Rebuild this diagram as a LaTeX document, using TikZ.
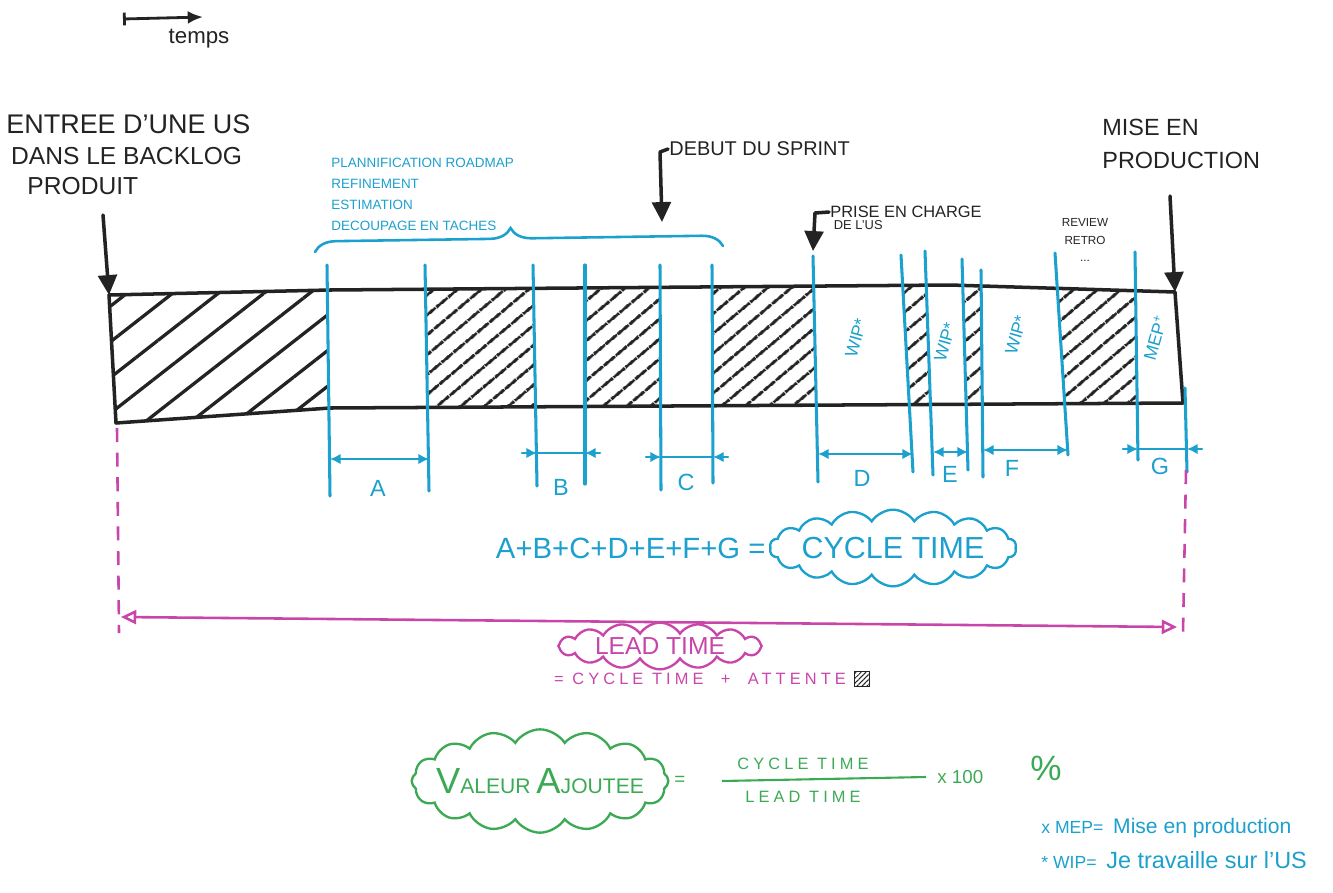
\documentclass[tikz,border=0pt]{standalone}
\usepackage{fontspec}
\setmainfont{Liberation Sans}
\newfontfamily\espace[LetterSpace=25]{Liberation Sans}
\usepackage{xcolor}
\usetikzlibrary{arrows.meta,positioning,patterns.meta,shapes.symbols,decorations.pathreplacing}

\definecolor{feutrebleu}{RGB}{28,160,205}
\definecolor{feutrerose}{RGB}{200,70,170}
\definecolor{feutrevert}{RGB}{60,170,85}
\definecolor{feutrenoir}{RGB}{35,35,35}

\newcommand{\taille}[2]{\fontsize{#1}{#2}\selectfont}
% contour du bandeau
\newcommand{\bandeau}{(tl) -- (330,290) -- (700,287) -- (950,285) -- (tr) -- (br) -- (330,408) -- (bl) -- cycle}

\begin{document}
\begin{tikzpicture}[x=0.3mm, y=-0.3mm,
    noir/.style={draw=feutrenoir, line width=3pt, line cap=round, line join=round},
    fleche/.style={noir, -{Triangle[length=17pt,width=16pt]}},
    bleu/.style={draw=feutrebleu, line width=2.6pt, line cap=round},
    cote/.style={bleu, line width=2.2pt, {Latex[length=9pt,width=9pt]}-{Latex[length=9pt,width=9pt]}},
    cotebout/.style={bleu, line width=2.2pt, -{Latex[length=9pt,width=9pt]}},
    rose/.style={draw=feutrerose, line width=2.2pt},
    pointille/.style={rose, dash pattern=on 12pt off 9pt},
    vert/.style={draw=feutrevert, line width=1.8pt},
    hachure/.style={pattern={Lines[angle=40,distance=13pt,line width=2.6pt]}, pattern color=feutrenoir},
    hachurelarge/.style={pattern={Lines[angle=38,distance=24pt,line width=2.8pt]}, pattern color=feutrenoir},
    hachurefine/.style={pattern={Lines[angle=45,distance=3pt,line width=0.8pt]}, pattern color=feutrenoir},
    texte/.style={inner sep=1pt},
    lettre/.style={texte, text=feutrebleu, font=\taille{20}{22}},
    wip/.style={texte, text=feutrebleu, font=\taille{15}{17}, rotate=74},
    nuage/.style={cloud, cloud ignores aspect, cloud puffs=18, cloud puff arc=115, line width=2pt, inner sep=0pt},
  ]
  \useasboundingbox (0,0) rectangle (1333,892);

  % echelle de temps
  \coordinate (temps0) at (123,19);
  \coordinate (temps1) at (203,17);
  \draw[noir, line width=2.4pt, {Bar[width=11pt]}-{Latex[length=13pt,width=11pt]}] (temps0) -- (temps1);
  \node[texte, text=feutrenoir, font=\taille{19}{20}] (temps) at (199,39) {temps};

  % bandeau
  \coordinate (tl) at (109,295);
  \coordinate (tr) at (1175,292);
  \coordinate (br) at (1183,403);
  \coordinate (bl) at (116,423);

  \foreach \n/\xt/\yt/\xb/\yb in {a1/327/265/330/496, a2/425/265/429/491,
      b1/533/265/537/486, b2/585/265/585/484, c1/660/265/661/490, c2/712/265/713/483,
      d1/813/256/818/482, d2/901/255/913/472, e1/925/251/933/475, e2/962/259/968/470,
      f1/981/270/983/477, f2/1055/253/1068/455, g1/1135/252/1138/460, g2/1185/388/1187/472}{
    \coordinate (t\n) at (\xt,\yt);
    \coordinate (b\n) at (\xb,\yb);
  }

  \begin{scope}
    \clip \bandeau;
    \fill[hachurelarge] (90,260) -- (ta1) -- (ba1) -- (90,450) -- cycle;
    \foreach \p/\q in {a2/b1, b2/c1, c2/d1, d2/e1, e2/f1, f2/g1}
      \fill[hachure] (t\p) -- (t\q) -- (b\q) -- (b\p) -- cycle;
  \end{scope}
  \draw[noir] \bandeau;

  \foreach \n in {a1,a2,b1,b2,c1,c2,d1,d2,e1,e2,f1,f2,g1,g2}
    \draw[bleu] (t\n) -- (b\n);

  \node[wip] (wipD) at (856,338) {WIP*};
  \node[wip] (wipE) at (945,342) {WIP*};
  \node[wip] (wipF) at (1016,335) {WIP*};
  \node[wip] (mep) at (1155,338) {MEP\textsuperscript{+}};

  % evenements
  \node[texte, text=feutrenoir, font=\taille{23}{26}, anchor=west, align=left] (entree) at (5,155)
    {ENTREE D'UNE US\\\hspace*{4pt}\taille{21}{26}DANS LE BACKLOG\\\hspace*{18pt}\taille{21}{26}PRODUIT};
  \coordinate (entree0) at (103,215);
  \draw[fleche] (entree0) -- (tl);

  \node[texte, text=feutrebleu, font=\taille{11.5}{18}, anchor=west, align=left] (planif) at (330,194)
    {PLANNIFICATION ROADMAP\\REFINEMENT\\ESTIMATION\\DECOUPAGE EN TACHES};
  \draw[bleu, line width=2.2pt, decorate, decoration={brace, amplitude=18pt, aspect=0.48}] (315,252) -- (723,246);

  \node[texte, text=feutrenoir, font=\taille{17}{20}, anchor=west] (debut) at (668,149) {DEBUT DU SPRINT};
  \draw[fleche] (debut.west) -- ++(-8,3) -- ++(2,70);

  \node[texte, text=feutrenoir, font=\taille{14}{16}, anchor=west] (prise) at (829,212) {PRISE EN CHARGE};
  \node[texte, text=feutrenoir, font=\taille{11}{13}, below right=0pt and 3pt of prise.south west] (delus) {DE L'US};
  \draw[fleche] (prise.west) -- ++(-14,1) -- ++(-2,38);

  \node[texte, text=feutrenoir, font=\taille{10}{15}, align=center] (review) at (1085,240) {REVIEW\\RETRO\\...};

  \node[texte, text=feutrenoir, font=\taille{20}{28}, anchor=west, align=left] (mise) at (1101,144) {MISE EN\\PRODUCTION};
  \coordinate (mise0) at (1170,196);
  \draw[fleche] (mise0) -- (tr);

  % durees
  \foreach \p/\q/\y in {a1/a2/459, d1/d2/454, e1/e2/452, f1/f2/450}{
    \coordinate (y\p) at (0,\y);
    \draw[cote] (b\p |- y\p) -- (b\q |- y\p);
  }
  \foreach \p/\q/\y in {b1/b2/453, c1/c2/457, g1/g2/449}{
    \coordinate (y\p) at (0,\y);
    \draw[cotebout] (b\p |- y\p) ++(-15,0) -- (b\p |- y\p);
    \draw[cotebout] (b\q |- y\p) ++(15,0) -- (b\q |- y\p);
    \draw[bleu, line width=2.2pt] (b\p |- y\p) -- (b\q |- y\p);
  }
  \foreach \l/\x/\y in {A/378/488, B/561/487, C/686/482, D/862/478, E/950/474, F/1012/468, G/1160/466}
    \node[lettre] (lab\l) at (\x,\y) {\l};

  % cycle time
  \node[nuage, draw=feutrebleu, minimum width=74mm, minimum height=23mm] (cycle) at (893,548) {};
  \node[texte, text=feutrebleu, font=\taille{26}{28}] (cycletxt) at (cycle.center) {CYCLE TIME};
  \node[texte, text=feutrebleu, font=\taille{25}{28}, left=2pt of cycle] (somme) {A+B+C+D+E+F+G =};

  % lead time
  \coordinate (pg0) at (117,428);
  \coordinate (pg1) at (119,633);
  \coordinate (pd0) at (1186,470);
  \coordinate (pd1) at (1183,633);
  \draw[pointille] (pg0) -- (pg1);
  \draw[pointille] (pd0) -- (pd1);
  \coordinate (lg) at (121,617);
  \coordinate (ld) at (1177,627);
  \draw[rose, {Triangle[open,length=13pt,width=12pt]}-{Triangle[open,length=13pt,width=12pt]}] (lg) -- (ld);
  \node[nuage, draw=feutrerose, minimum width=61mm, minimum height=14mm, cloud puffs=16] (lead) at (660,646) {};
  \node[texte, text=feutrerose, font=\taille{21}{24}] (leadtxt) at (lead.center) {LEAD TIME};
  \node[texte, text=feutrerose, font=\espace\taille{14}{16}] (attente) at (700,679) {= CYCLE TIME \ + \ ATTENTE};
  \node[draw=feutrenoir, line width=1pt, hachurefine, minimum size=4.5mm, inner sep=0pt, right=6pt of attente] (carre) {};

  % valeur ajoutee
  \node[nuage, draw=feutrevert, minimum width=77mm, minimum height=31mm, cloud puffs=16] (valeur) at (540,781) {};
  \node[texte, text=feutrevert, font=\taille{18}{24}] (valeurtxt) at (valeur.center)
    {{\taille{31}{36}V}ALEUR {\taille{31}{36}A}JOUTEE};
  \node[texte, text=feutrevert, font=\taille{16}{18}, right=3pt of valeur] (egal) {=};
  \node[texte, text=feutrevert, font=\espace\taille{14}{16}] (num) at (803,764) {CYCLE TIME};
  \node[texte, text=feutrevert, font=\espace\taille{14}{16}] (den) at (803,797) {LEAD TIME};
  \coordinate (fracg) at (722,781);
  \coordinate (fracd) at (926,777);
  \draw[vert] (fracg) -- (fracd);
  \node[texte, text=feutrevert, font=\taille{16}{18}, anchor=west] (fois) at (936,777) {x 100};
  \node[texte, text=feutrevert, font=\taille{30}{32}] (pourcent) at (1046,768) {\%};

  % legende
  \node[texte, text=feutrebleu, font=\taille{15}{17}, anchor=west] (notemep) at (1040,828) {x MEP= \ {\taille{18}{19}Mise en production}};
  \node[texte, text=feutrebleu, font=\taille{15}{17}, anchor=west] (notewip) at (1040,860) {* WIP= \ {\taille{20}{21}Je travaille sur l'US}};
\end{tikzpicture}
\end{document}
